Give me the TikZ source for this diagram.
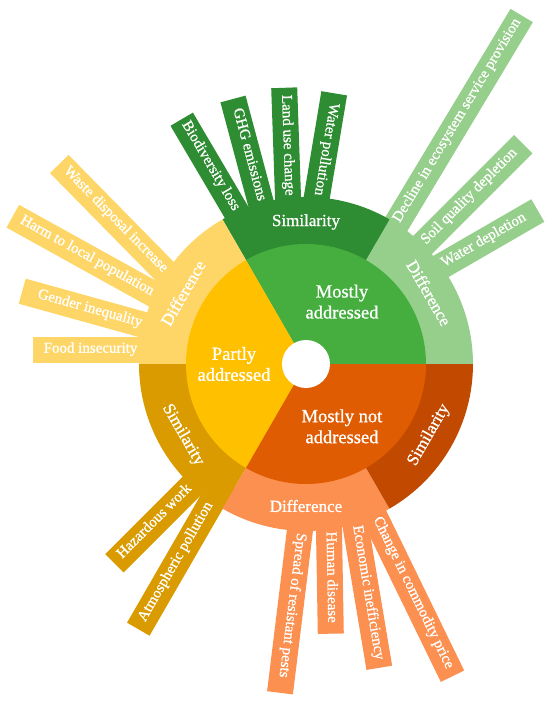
\documentclass[tikz,border=0pt]{standalone}
\usepackage{fontspec}
\setmainfont{Liberation Serif}
\newfontfamily\lblfont[FakeBold=0.9]{Liberation Serif}
\definecolor{gIn}{HTML}{45AE3F}
\definecolor{gDark}{HTML}{2E8C32}
\definecolor{gLight}{HTML}{96CF8B}
\definecolor{yIn}{HTML}{FFC000}
\definecolor{yLight}{HTML}{FED667}
\definecolor{yDark}{HTML}{DA9B00}
\definecolor{oIn}{HTML}{E05C02}
\definecolor{oDark}{HTML}{C24A00}
\definecolor{oLight}{HTML}{FB9050}
% #1 name, #2 colour, #3 px, #4 py, #5 outward angle, #6 distance to ring, #7 text
\newcommand\outbar[7]{%
  \fill[#2, shift={(#3,#4)}, rotate=#5] (-#6-25,-13) -- (0,-13) -- (0,13) -- (-#6-25,13) -- cycle;
  \path (#3,#4) ++(#5+180:#6) node[bartext, rotate=#5, anchor=west] (#1) {#7};
}
\newcommand\inbar[7]{%
  \fill[#2, shift={(#3,#4)}, rotate=#5] (-#6-25,-13) -- (0,-13) -- (0,13) -- (-#6-25,13) -- cycle;
  \path (#3,#4) ++(#5+180:#6) node[bartext, rotate=#5+180, anchor=east] (#1) {#7};
}
\begin{document}
\begin{tikzpicture}[x=1pt,y=1pt,
  bartext/.style={text=white, font=\lblfont\fontsize{15}{18}\selectfont, inner sep=2pt, text height=0.68em, text depth=0.2em},
  ringtext/.style={text=white, font=\lblfont\fontsize{17}{20}\selectfont, inner sep=0pt},
  centertext/.style={text=white, font=\lblfont\fontsize{18.5}{21}\selectfont, align=center, inner sep=0pt}]
\useasboundingbox (-306,-338) rectangle (244,364);
% bars (drawn under the rings)
\inbar{b1}{gDark}{-124.3}{244.8}{120.5}{107.9}{Biodiversity loss}
\inbar{b2}{gDark}{-73}{265}{105}{107.8}{GHG emissions}
\inbar{b3}{gDark}{-21.8}{276.2}{92}{110.2}{Land use change}
\inbar{b4}{gDark}{28.2}{270.7}{80.5}{105.5}{Water pollution}
\outbar{b5}{gLight}{215.7}{348.5}{59}{242.9}{Decline in ecosystem service provision}
\outbar{b6}{gLight}{217.3}{219.8}{45}{142.0}{Soil quality depletion}
\outbar{b7}{gLight}{231.8}{153.5}{30}{111.4}{Water depletion}
\inbar{b8}{yLight}{-246.7}{200}{134.5}{152.4}{Waste disposal increase}
\inbar{b9}{yLight}{-293.2}{147.8}{151}{161.6}{Harm to local population}
\inbar{b10}{yLight}{-283.8}{72.8}{164.5}{126.1}{Gender inequality}
\inbar{b11}{yLight}{-272.7}{13.7}{180}{106.3}{Food insecurity}
\inbar{b12}{yDark}{-191.5}{-199.3}{225}{109.5}{Hazardous work}
\inbar{b13}{yDark}{-167.7}{-265.2}{240}{147.0}{Atmospheric pollution}
\outbar{b14}{oLight}{-26}{-328.8}{263}{163.2}{Spread of resistant pests}
\outbar{b15}{oLight}{24.8}{-269.7}{271}{104.3}{Human disease}
\outbar{b16}{oLight}{73.3}{-303.8}{279.5}{146.2}{Economic inefficiency}
\outbar{b17}{oLight}{146.5}{-312.2}{296}{177.9}{Change in commodity price}
% middle ring
\fill[gLight] (0,0) -- (0:167) arc[start angle=0, end angle=60, radius=167] -- cycle;
\fill[gDark] (0,0) -- (60:167) arc[start angle=60, end angle=120, radius=167] -- cycle;
\fill[yLight] (0,0) -- (120:167) arc[start angle=120, end angle=180, radius=167] -- cycle;
\fill[yDark] (0,0) -- (180:167) arc[start angle=180, end angle=240, radius=167] -- cycle;
\fill[oLight] (0,0) -- (240:167) arc[start angle=240, end angle=300, radius=167] -- cycle;
\fill[oDark] (0,0) -- (300:167) arc[start angle=300, end angle=360, radius=167] -- cycle;
% inner ring
\fill[gIn] (0,0) -- (0:120) arc[start angle=0, end angle=120, radius=120] -- cycle;
\fill[yIn] (0,0) -- (120:120) arc[start angle=120, end angle=240, radius=120] -- cycle;
\fill[oIn] (0,0) -- (240:120) arc[start angle=240, end angle=360, radius=120] -- cycle;
\fill[white] (0,0) circle[radius=24];
% ring labels
\node[ringtext] (simG) at (90:142) {Similarity};
\node[ringtext, rotate=-60] (difG) at (30:142) {Difference};
\node[ringtext, rotate=60] (difY) at (150:142) {Difference};
\node[ringtext, rotate=-60] (simY) at (210:142) {Similarity};
\node[ringtext] (difO) at (270:142) {Difference};
\node[ringtext, rotate=60] (simO) at (330:142) {Similarity};
% centre labels
\node[centertext] (ma) at (60:72) {Mostly\\addressed};
\node[centertext] (pa) at (180:72) {Partly\\addressed};
\node[centertext] (mna) at (300:72) {Mostly not\\addressed};
\end{tikzpicture}
\end{document}
